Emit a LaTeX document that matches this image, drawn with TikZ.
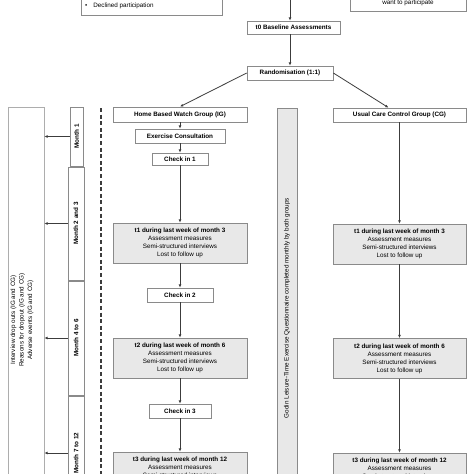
\documentclass[tikz,border=0pt]{standalone}
\usepackage{fontspec}
\setmainfont{Liberation Sans}
\usetikzlibrary{arrows.meta}
\definecolor{bord}{HTML}{8A8A8A}
\definecolor{lin}{HTML}{3C3C3C}
\definecolor{gfill}{HTML}{E8E8E8}
\begin{document}
\begin{tikzpicture}[x=1pt,y=-1pt,
  every node/.style={font=\fontsize{6.3}{8}\selectfont, inner sep=0pt},
  box/.style={draw=bord, line width=0.7pt, fill=white, rectangle, align=center},
  gbox/.style={box, fill=gfill},
  ttl/.style={font=\fontsize{6.3}{8}\selectfont\bfseries},
  arr/.style={draw=lin, line width=0.8pt, -{Latex[length=3.2pt,width=2.8pt]}},
  dashline/.style={draw=lin, line width=1.1pt, dash pattern=on 4pt off 2.6pt}
]
\useasboundingbox (0,0) rectangle (474,474);
\clip (0,0) rectangle (474,474);
\fill[white] (0,0) rectangle (474,474);

% top (cut-off) boxes
\node[box, minimum width=141, minimum height=35] (decl) at (151.5,-2.5) {};
\node[anchor=west] (decltxt) at (85,6) {•\hspace{6pt}Declined participation};
\node[box, minimum width=116, minimum height=27] (want) at (408,-2.5) {};
\node (wanttxt) at (408,3) {want to participate};
\coordinate (top) at (290,-20);
\coordinate (split) at (290,-2.5);

% main flow
\node[box, ttl, minimum width=93, minimum height=13] (t0) at (293.5,27.5) {t0 Baseline Assessments};
\node[box, ttl, minimum width=86, minimum height=14] (rand) at (290,73) {Randomisation (1:1)};
\draw[arr] (top) -- (top |- t0.north);
\draw[arr] (split) -- (decl.east);
\draw[arr] (split) -- (want.west);
\draw[arr] (rand.north |- t0.south) -- (rand.north);

% intervention group
\node[box, ttl, minimum width=134, minimum height=15] (hb) at (180,114.5) {Home Based Watch Group (IG)};
\node[box, ttl, minimum width=90, minimum height=14] (ec) at (180,136) {Exercise Consultation};
\node[box, ttl, minimum width=56, minimum height=12] (ci1) at (180,159) {Check in 1};
\node[gbox, minimum width=134, minimum height=40] (t1i) at (180,243) {\textbf{t1 during last week of month 3}\\Assessment measures\\Semi-structured interviews\\Lost to follow up};
\node[box, ttl, minimum width=66, minimum height=14] (ci2) at (180,295) {Check in 2};
\node[gbox, minimum width=134, minimum height=40] (t2i) at (180,358) {\textbf{t2 during last week of month 6}\\Assessment measures\\Semi-structured interviews\\Lost to follow up};
\node[box, ttl, minimum width=62, minimum height=14] (ci3) at (180,411) {Check in 3};
\node[gbox, minimum width=134, minimum height=40] (t3i) at (180,472) {\textbf{t3 during last week of month 12}\\Assessment measures\\Semi-structured interviews\\Lost to follow up};

% control group
\node[box, ttl, minimum width=133, minimum height=14] (uc) at (399.5,115) {Usual Care Control Group (CG)};
\node[gbox, minimum width=133, minimum height=40] (t1c) at (399.5,244) {\textbf{t1 during last week of month 3}\\Assessment measures\\Semi-structured interviews\\Lost to follow up};
\node[gbox, minimum width=133, minimum height=40] (t2c) at (399.5,358.5) {\textbf{t2 during last week of month 6}\\Assessment measures\\Semi-structured interviews\\Lost to follow up};
\node[gbox, minimum width=133, minimum height=40] (t3c) at (399.5,473) {\textbf{t3 during last week of month 12}\\Assessment measures\\Semi-structured interviews\\Lost to follow up};

\draw[arr] (rand.west) -- (hb.north);
\draw[arr] (rand.east) -- ([xshift=-11pt]uc.north);

\draw[arr] (hb) -- (ec);
\draw[arr] (ec) -- (ci1);
\draw[arr] (ci1) -- (t1i);
\draw[arr] (t1i) -- (ci2);
\draw[arr] (ci2) -- (t2i);
\draw[arr] (t2i) -- (ci3);
\draw[arr] (ci3) -- (t3i);
\draw[arr] (uc) -- (t1c);
\draw[arr] (t1c) -- (t2c);
\draw[arr] (t2c) -- (t3c);

% Godin bar
\node[gbox, minimum width=20, minimum height=400] (godin) at (287,308) {};
\node[rotate=90] (godintxt) at (287,308) {Godin Leisure-Time Exercise Questionnaire completed monthly by both groups};

% dashed separator
\coordinate (dtop) at (101,108);
\coordinate (dbot) at (101,480);
\draw[dashline] (dtop) -- (dbot);

% month boxes
\node[box, minimum width=13, minimum height=59] (m1) at (76.5,136.5) {};
\node[box, minimum width=16, minimum height=113] (m2) at (76,223.5) {};
\node[box, minimum width=16, minimum height=114] (m3) at (76,338) {};
\node[box, minimum width=16, minimum height=114] (m4) at (76,453) {};
\node[ttl, rotate=90] (m1t) at (m1.center) {Month 1};
\node[ttl, rotate=90] (m2t) at (m2.center) {Month 2 and 3};
\node[ttl, rotate=90] (m3t) at (m3.center) {Month 4 to 6};
\node[ttl, rotate=90] (m4t) at (m4.center) {Month 7 to 12};

% left outcome box
\node[box, draw=bord!70, minimum width=36, minimum height=426] (left) at (26,320) {};
\node[rotate=90, align=center, font=\fontsize{6.3}{8.6}\selectfont] (lefttxt) at (22,320) {Interview drop outs (IG and CG)\\Reasons for dropout (IG and CG)\\Adverse events (IG and CG)};

\draw[arr] (m1.west) -- (left.east |- m1.west);
\draw[arr] (m2.west) -- (left.east |- m2.west);
\draw[arr] (m3.west) -- (left.east |- m3.west);
\draw[arr] (m4.west) -- (left.east |- m4.west);
\end{tikzpicture}
\end{document}
